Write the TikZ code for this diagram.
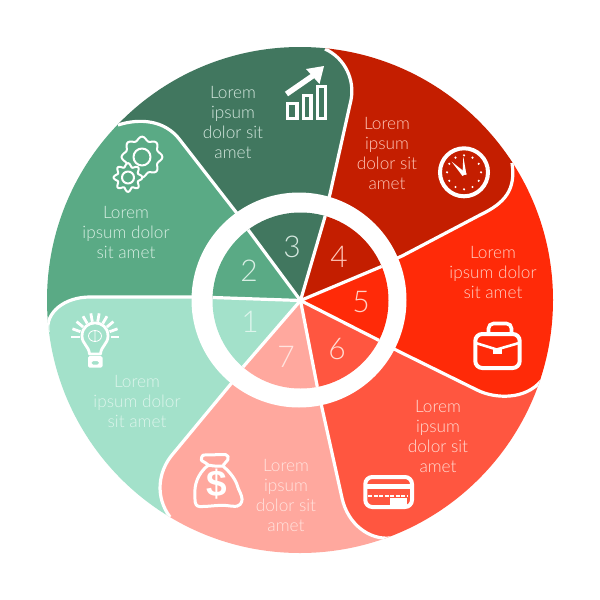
\documentclass[tikz,border=0pt]{standalone}
\usepackage{fontspec}
\setmainfont{Lato}[UprightFont=* Light,BoldFont=Liberation Sans Bold]
\usetikzlibrary{calc}
\definecolor{sa}{HTML}{A3E1CA}
\definecolor{sb}{HTML}{5AAA85}
\definecolor{sc}{HTML}{41775F}
\definecolor{sd}{HTML}{C41E00}
\definecolor{se}{HTML}{FF2A08}
\definecolor{sf}{HTML}{FF5640}
\definecolor{sg}{HTML}{FFA89E}
\definecolor{ta}{HTML}{DDF5EC}
\definecolor{tb}{HTML}{D8EFE4}
\definecolor{tc}{HTML}{D5E8DF}
\definecolor{td}{HTML}{FFC9BC}
\definecolor{te}{HTML}{FFD0C5}
\definecolor{tf}{HTML}{FFDDD5}
\definecolor{tg}{HTML}{FFE4DF}
% outer boundaries, forward (centre to rim, then past the rim) and back
\def\BFa{(300,300) -- (190,297) -- (90,297) .. controls (65,297) and (45,312) .. (48,332) -- (-2,338)}
\def\BRa{(-2,338) -- (48,332) .. controls (45,312) and (65,297) .. (90,297) -- (190,297) -- (300,300)}
\def\BFb{(300,300) -- (236.7,213) -- (180,140) .. controls (165,120) and (140,118) .. (118,125) -- (82,90)}
\def\BRb{(82,90) -- (118,125) .. controls (140,118) and (165,120) .. (180,140) -- (236.7,213) -- (300,300)}
\def\BFc{(300,300) -- (330,194) -- (351,100) .. controls (355,80) and (345,58) .. (325,49) -- (330,-1)}
\def\BRc{(330,-1) -- (325,49) .. controls (345,58) and (355,80) .. (351,100) -- (330,194) -- (300,300)}
\def\BFd{(300,300) -- (402,256) -- (480,215) .. controls (505,203) and (516,190) .. (512,163) -- (554,136)}
\def\BRd{(554,136) -- (512,163) .. controls (516,190) and (505,203) .. (480,215) -- (402,256) -- (300,300)}
\def\BFe{(300,300) -- (400,352) -- (477,390) .. controls (495,399) and (525,400) .. (541,381) -- (589,397)}
\def\BRe{(589,397) -- (541,381) .. controls (525,400) and (495,399) .. (477,390) -- (400,352) -- (300,300)}
\def\BFf{(300,300) -- (322,408) -- (342,498) .. controls (348,525) and (370,540) .. (390,538) -- (408,586)}
\def\BRf{(408,586) -- (390,538) .. controls (370,540) and (348,525) .. (342,498) -- (322,408) -- (300,300)}
\def\BFg{(300,300) -- (230,385) -- (172,455) .. controls (158,472) and (155,497) .. (170,517) -- (144,560)}
\def\BRg{(144,560) -- (170,517) .. controls (155,497) and (158,472) .. (172,455) -- (230,385) -- (300,300)}
\tikzset{
  lbl/.style={align=center,inner sep=0pt,font=\fontsize{17.2}{20}\selectfont},
  num/.style={inner sep=0pt,font=\fontsize{30}{30}\selectfont},
  edge/.style={draw=white,line width=3.2pt},
  icon/.style={draw=white,line width=3.4pt,line join=round,line cap=round},
  thinicon/.style={draw=white,line width=2pt,line join=round},
}
\newcommand{\geargl}[6]{% x y R r teeth fill
  \draw[thinicon,fill=#6] plot[smooth cycle,variable=\t,samples=73,domain=0:355]
     ({#1+(#3+1.9*cos(#5*\t))*cos(\t)},{#2+(#3+1.9*cos(#5*\t))*sin(\t)});
  \draw[thinicon] (#1,#2) circle (#4pt);
}
\begin{document}
\begin{tikzpicture}[x=1pt,y=-1pt]
\useasboundingbox (0,0) rectangle (600,600);
\fill[white] (0,0) rectangle (600,600);
\begin{scope}
  \clip (300,300) circle (253pt);
  \fill[sa] \BFa -- \BRg -- cycle;
  \fill[sb] \BFb -- \BRa -- cycle;
  \fill[sc] \BFc -- \BRb -- cycle;
  \fill[sd] \BFd -- \BRc -- cycle;
  \fill[se] \BFe -- \BRd -- cycle;
  \fill[sf] \BFf -- \BRe -- cycle;
  \fill[sg] \BFg -- \BRf -- cycle;
  \draw[edge] (300,300) -- (190,297) -- (90,297) .. controls (65,297) and (45,312) .. (48,332);
  \draw[edge] (300,300) -- (236.7,213) -- (180,140) .. controls (165,120) and (140,118) .. (118,125);
  \draw[edge] (300,300) -- (330,194) -- (351,100) .. controls (355,80) and (345,58) .. (325,49);
  \draw[edge] (300,300) -- (402,256) -- (480,215) .. controls (505,203) and (516,190) .. (512,163);
  \draw[edge] (300,300) -- (400,352) -- (477,390) .. controls (495,399) and (525,400) .. (541,381);
  \draw[edge] (300,300) -- (322,408) -- (342,498) .. controls (348,525) and (370,540) .. (390,538);
  \draw[edge] (300,300) -- (230,385) -- (172,455) .. controls (158,472) and (155,497) .. (170,517);
\end{scope}
% white ring
\fill[white] (299,300) circle (107.5pt);
% inner pie
\coordinate (c) at (300.5,300.5);
\coordinate (ia) at (212.7,297.5);
\coordinate (ib) at (248.3,230);
\coordinate (ic) at (325,216.7);
\coordinate (id) at (382.7,266);
\coordinate (ie) at (378.3,340);
\coordinate (if) at (317.3,386.7);
\coordinate (ig) at (243.3,366.7);
\begin{scope}
  \clip (300.5,300.5) circle (88pt);
  \foreach \p/\q/\col in {ia/ig/sa,ib/ia/sb,ic/ib/sc,id/ic/sd,ie/id/se,if/ie/sf,ig/if/sg}
    \fill[\col] (c) -- ($(c)!1.5!(\p)$) -- ($(c)!1.5!(\q)$) -- cycle;
  \foreach \p in {ia,ib,ic,id,ie,if,ig}
    \draw[edge] (c) -- ($(c)!1.5!(\p)$);
\end{scope}
% numbers
\node[num,text=ta] (n1) at (250,322) {1};
\node[num,text=tb] (n2) at (249,271) {2};
\node[num,text=tc] (n3) at (292,247) {3};
\node[num,text=td] (n4) at (339,257) {4};
\node[num,text=te] (n5) at (361,302) {5};
\node[num,text=tf] (n6) at (337,349) {6};
\node[num,text=tg] (n7) at (286,357) {7};
% labels
\node[lbl,text=ta] (l1) at (137,401.5) {Lorem\\ipsum dolor\\sit amet};
\node[lbl,text=tb] (l2) at (126,232) {Lorem\\ipsum dolor\\sit amet};
\node[lbl,text=tc] (l3) at (233,122) {Lorem\\ipsum\\dolor sit\\amet};
\node[lbl,text=td] (l4) at (387,153) {Lorem\\ipsum\\dolor sit\\amet};
\node[lbl,text=te] (l5) at (493,272) {Lorem\\ipsum dolor\\sit amet};
\node[lbl,text=tf] (l6) at (438,436) {Lorem\\ipsum\\dolor sit\\amet};
\node[lbl,text=tg] (l7) at (286,495) {Lorem\\ipsum\\dolor sit\\amet};
% chart icon
\draw[draw=white,line width=3.4pt] (287.2,103.2) rectangle (296.8,118.5);
\draw[draw=white,line width=3.4pt] (303.2,95.2) rectangle (310.8,118.5);
\draw[draw=white,line width=3.4pt] (317.2,86.2) rectangle (325.2,118.5);
\draw[draw=white,line width=5.5pt] (286.5,94) -- (314,75);
\fill[white] (324,66) -- (306,69) -- (319.5,84) -- cycle;
% gears
\geargl{142}{157}{18.5}{8.5}{8}{sb}
\geargl{128}{177.5}{12.5}{6}{8}{sb}
% bulb
\foreach \a in {0,20,...,180}
  \draw[draw=white,line width=2.8pt] ({95+15.5*cos(\a)},{337-15.5*sin(\a)}) -- ({95+24*cos(\a)},{337-24*sin(\a)});
\draw[icon,line width=2.8pt] (89.5,354) .. controls (89,346) and (82,344) .. (82,336)
   .. controls (82,318.5) and (108,318.5) .. (108,336)
   .. controls (108,344) and (101,346) .. (100.5,354) -- cycle;
\draw[white,line width=.8pt] (95,336) ellipse (6.5pt and 5.5pt) (95,331) -- (95,341);
\fill[white,even odd rule,rounded corners=1.5pt] (88,356) rectangle (102.5,367.5)
   (91.5,361) rectangle (99,364.5);
% money bag
\draw[icon,line width=3pt,rounded corners=1.5pt] (208.3,465)
   .. controls (205,462) and (201,461) .. (201.7,458.3)
   .. controls (202,455) and (204,455) .. (206,455) -- (224,454.5)
   .. controls (228,454.5) and (229,458) .. (227,461)
   .. controls (225,463) and (224,464) .. (222.7,466)
   .. controls (230,472) and (236,480) .. (238,488)
   .. controls (241,494) and (243,499) .. (241,503)
   .. controls (239,506.5) and (236,506.5) .. (230,506)
   .. controls (220,504.5) and (210,506.5) .. (201,506.5)
   .. controls (196,506.5) and (195,503) .. (195,498)
   .. controls (194,484) and (198,474) .. (208.3,465)
   .. controls (213,466) and (218,466.5) .. (222.7,466);
\node[inner sep=0pt,text=white,font=\fontsize{37}{37}\selectfont\bfseries] (dollar) at (216.7,484) {\$};
% credit card
\draw[draw=white,line width=4pt,rounded corners=7pt] (365.3,477) rectangle (412,507);
\fill[white] (366,484) rectangle (411.5,488.5);
\draw[draw=white,line width=1.6pt,dash pattern=on 4pt off 1.5pt] (368,495.7) -- (408,495.7);
\fill[white] (390,498) rectangle (406.5,506);
% briefcase
\draw[draw=white,line width=4pt,rounded corners=7pt] (475.3,334) rectangle (519.7,368);
\draw[draw=white,line width=3.6pt,rounded corners=5pt] (488.5,333) -- (488.5,323.5) -- (511.5,323.5) -- (511.5,333);
\draw[draw=white,line width=2.6pt] (476.7,343.3) -- (496.7,349.5) -- (518,343.3);
\fill[white] (493.3,348) rectangle (501.7,354);
% clock
\draw[draw=white,line width=4pt] (464,172.3) circle (24pt);
\foreach \a in {0,30,...,330}
  \fill[white] ({464+17*cos(\a)},{172.3+17*sin(\a)}) circle (1.2pt);
\fill[white] (463.3,156.5) -- (462.5,174) -- (466.5,175) -- cycle;
\fill[white] (451.5,161.5) -- (462.5,176) -- (466.5,173.5) -- cycle;
\end{tikzpicture}
\end{document}
